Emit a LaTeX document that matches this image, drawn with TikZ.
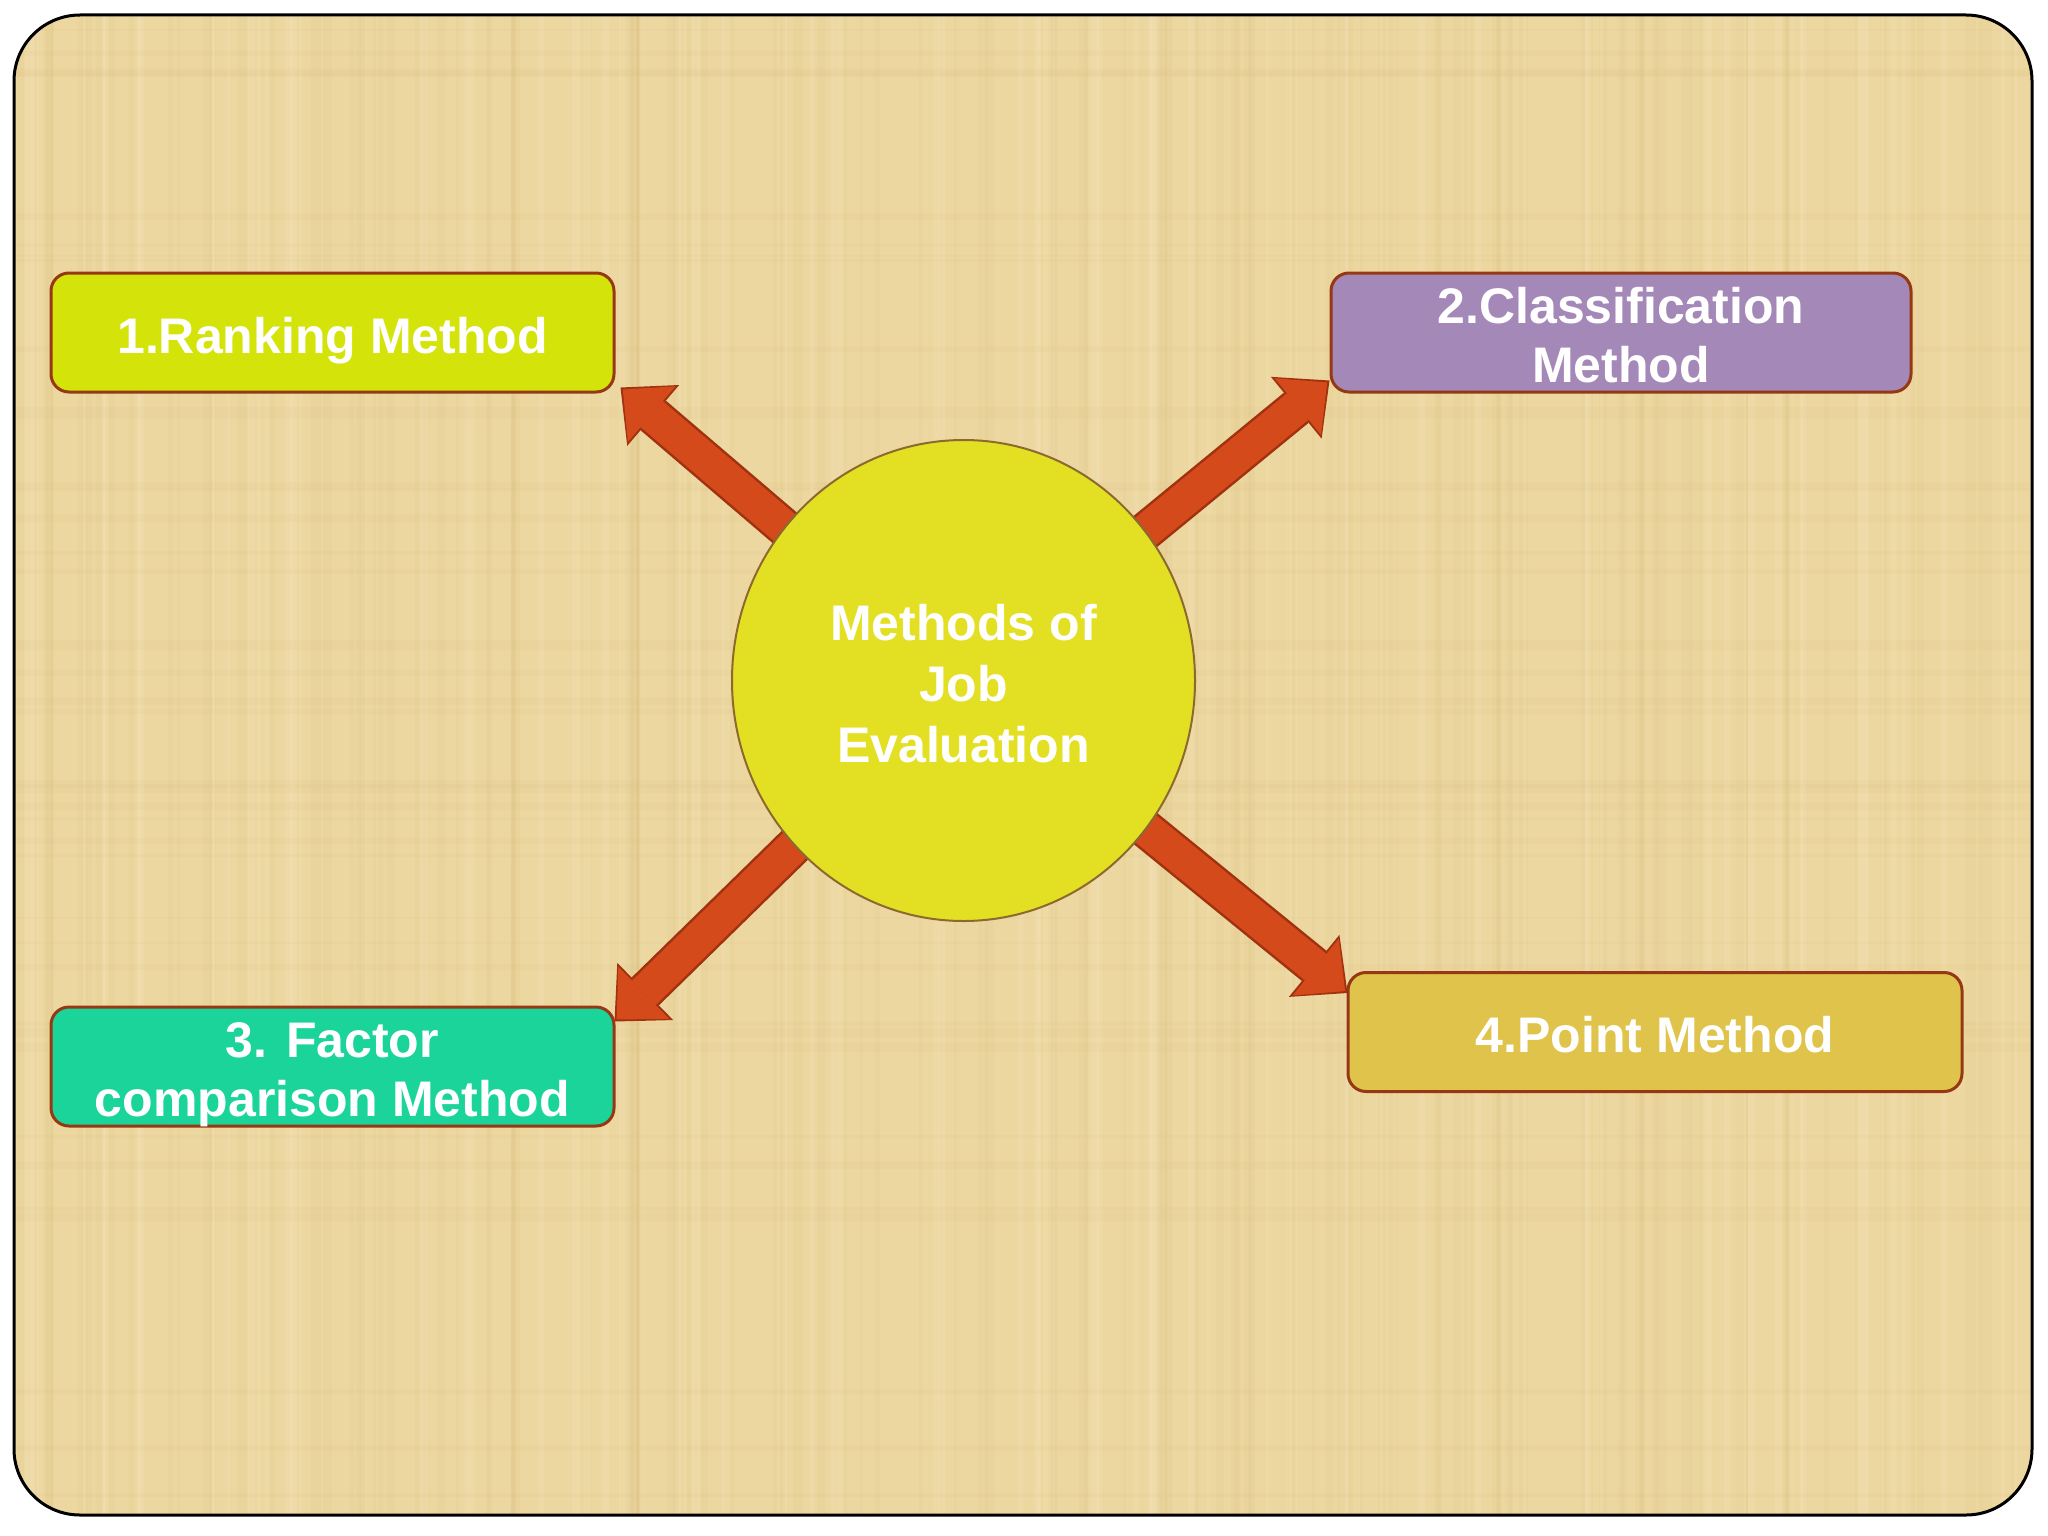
\documentclass[tikz,border=0pt]{standalone}
\usepackage{fontspec}
\setmainfont{Liberation Sans}
\usetikzlibrary{arrows.meta}
\usetikzlibrary{shapes.geometric}

\definecolor{parchment}{RGB}{236,215,160}
\definecolor{parchdark}{RGB}{200,170,100}
\definecolor{parchlight}{RGB}{250,232,195}
\definecolor{boxedge}{RGB}{150,56,20}
\definecolor{rankfill}{RGB}{212,228,10}
\definecolor{classfill}{RGB}{163,136,184}
\definecolor{factorfill}{RGB}{26,212,154}
\definecolor{pointfill}{RGB}{223,195,74}
\definecolor{hubfill}{RGB}{227,224,35}
\definecolor{hubedge}{RGB}{140,105,45}
\definecolor{arrowfill}{RGB}{212,74,26}
\definecolor{arrowedge}{RGB}{160,50,15}

\tikzset{
  method/.style={draw=boxedge, line width=3pt, rounded corners=18pt,
    minimum height=119pt, inner sep=0pt, text=white, align=center,
    text height=41pt, text depth=0pt,
    font=\fontsize{50}{59}\selectfont\bfseries},
  twolines/.style={text height=100pt},
  fatedge/.style={draw=arrowedge, line width=39pt,
    -{Triangle[length=43pt,width=80pt,line width=0pt]}},
  fatfill/.style={draw=arrowfill, line width=34pt, shorten >=3pt,
    -{Triangle[length=38pt,width=73pt,line width=0pt]}},
}

\begin{document}
\begin{tikzpicture}[x=1pt, y=-1pt]
    \useasboundingbox (0,0) rectangle (2048,1536);
    \fill[white] (0,0) rectangle (2048,1536);
    \fill[parchment, rounded corners=66pt] (14,15) rectangle (2032,1515);

    % parchment streaks
    \begin{scope}
        \clip[rounded corners=66pt] (14,15) rectangle (2032,1515);
        \pgfmathsetseed{11}
        \foreach \i in {1,...,140} {
            \pgfmathsetmacro\xx{14+2018*rnd}
            \pgfmathsetmacro\ww{2+9*rnd}
            \fill[parchdark, opacity=0.06] (\xx,15) rectangle ++(\ww,1500);
        }
        \foreach \i in {1,...,90} {
            \pgfmathsetmacro\xx{14+2018*rnd}
            \pgfmathsetmacro\ww{2+7*rnd}
            \fill[parchlight, opacity=0.20] (\xx,15) rectangle ++(\ww,1500);
        }
        \foreach \i in {1,...,40} {
            \pgfmathsetmacro\yy{15+1500*rnd}
            \pgfmathsetmacro\hh{2+8*rnd}
            \fill[parchdark, opacity=0.05] (14,\yy) rectangle ++(2018,\hh);
        }
    \end{scope}
    \draw[line width=3pt, rounded corners=66pt] (14,15) rectangle (2032,1515);

    % the four methods
    \node[method, fill=rankfill, minimum width=563pt] (rank) at (332.5,332.5) {1.Ranking Method};
    \node[method, twolines, fill=classfill, minimum width=580pt] (class) at (1621,332.5) {2.Classification\\Method};
    \node[method, twolines, fill=factorfill, minimum width=563pt] (factor) at (332.5,1066.5) {3. Factor\\comparison Method};
    \node[method, fill=pointfill, minimum width=614pt] (point) at (1655,1032) {4.Point Method};

    % arrow ends
    \coordinate (hubc) at (963.5,680.5);
    \coordinate (tip1) at ([shift={(5,-6)}]rank.south east);
    \coordinate (tip2) at ([shift={(0,-13)}]class.south west);
    \coordinate (tip3) at ([shift={(-1,16)}]factor.north east);
    \coordinate (tip4) at ([shift={(1,22)}]point.north west);

    \foreach \t in {tip1,tip2,tip3,tip4} {
        \draw[fatedge] (hubc) -- (\t);
        \draw[fatfill] (hubc) -- (\t);
    }

    \node[ellipse, draw=hubedge, line width=2pt, fill=hubfill,
          minimum width=463pt, minimum height=481pt, inner sep=0pt,
          text=white, align=center, text height=163pt, text depth=0pt,
          font=\fontsize{50}{61}\selectfont\bfseries]
        (hub) at (hubc) {Methods of\\Job\\Evaluation};
\end{tikzpicture}
\end{document}
